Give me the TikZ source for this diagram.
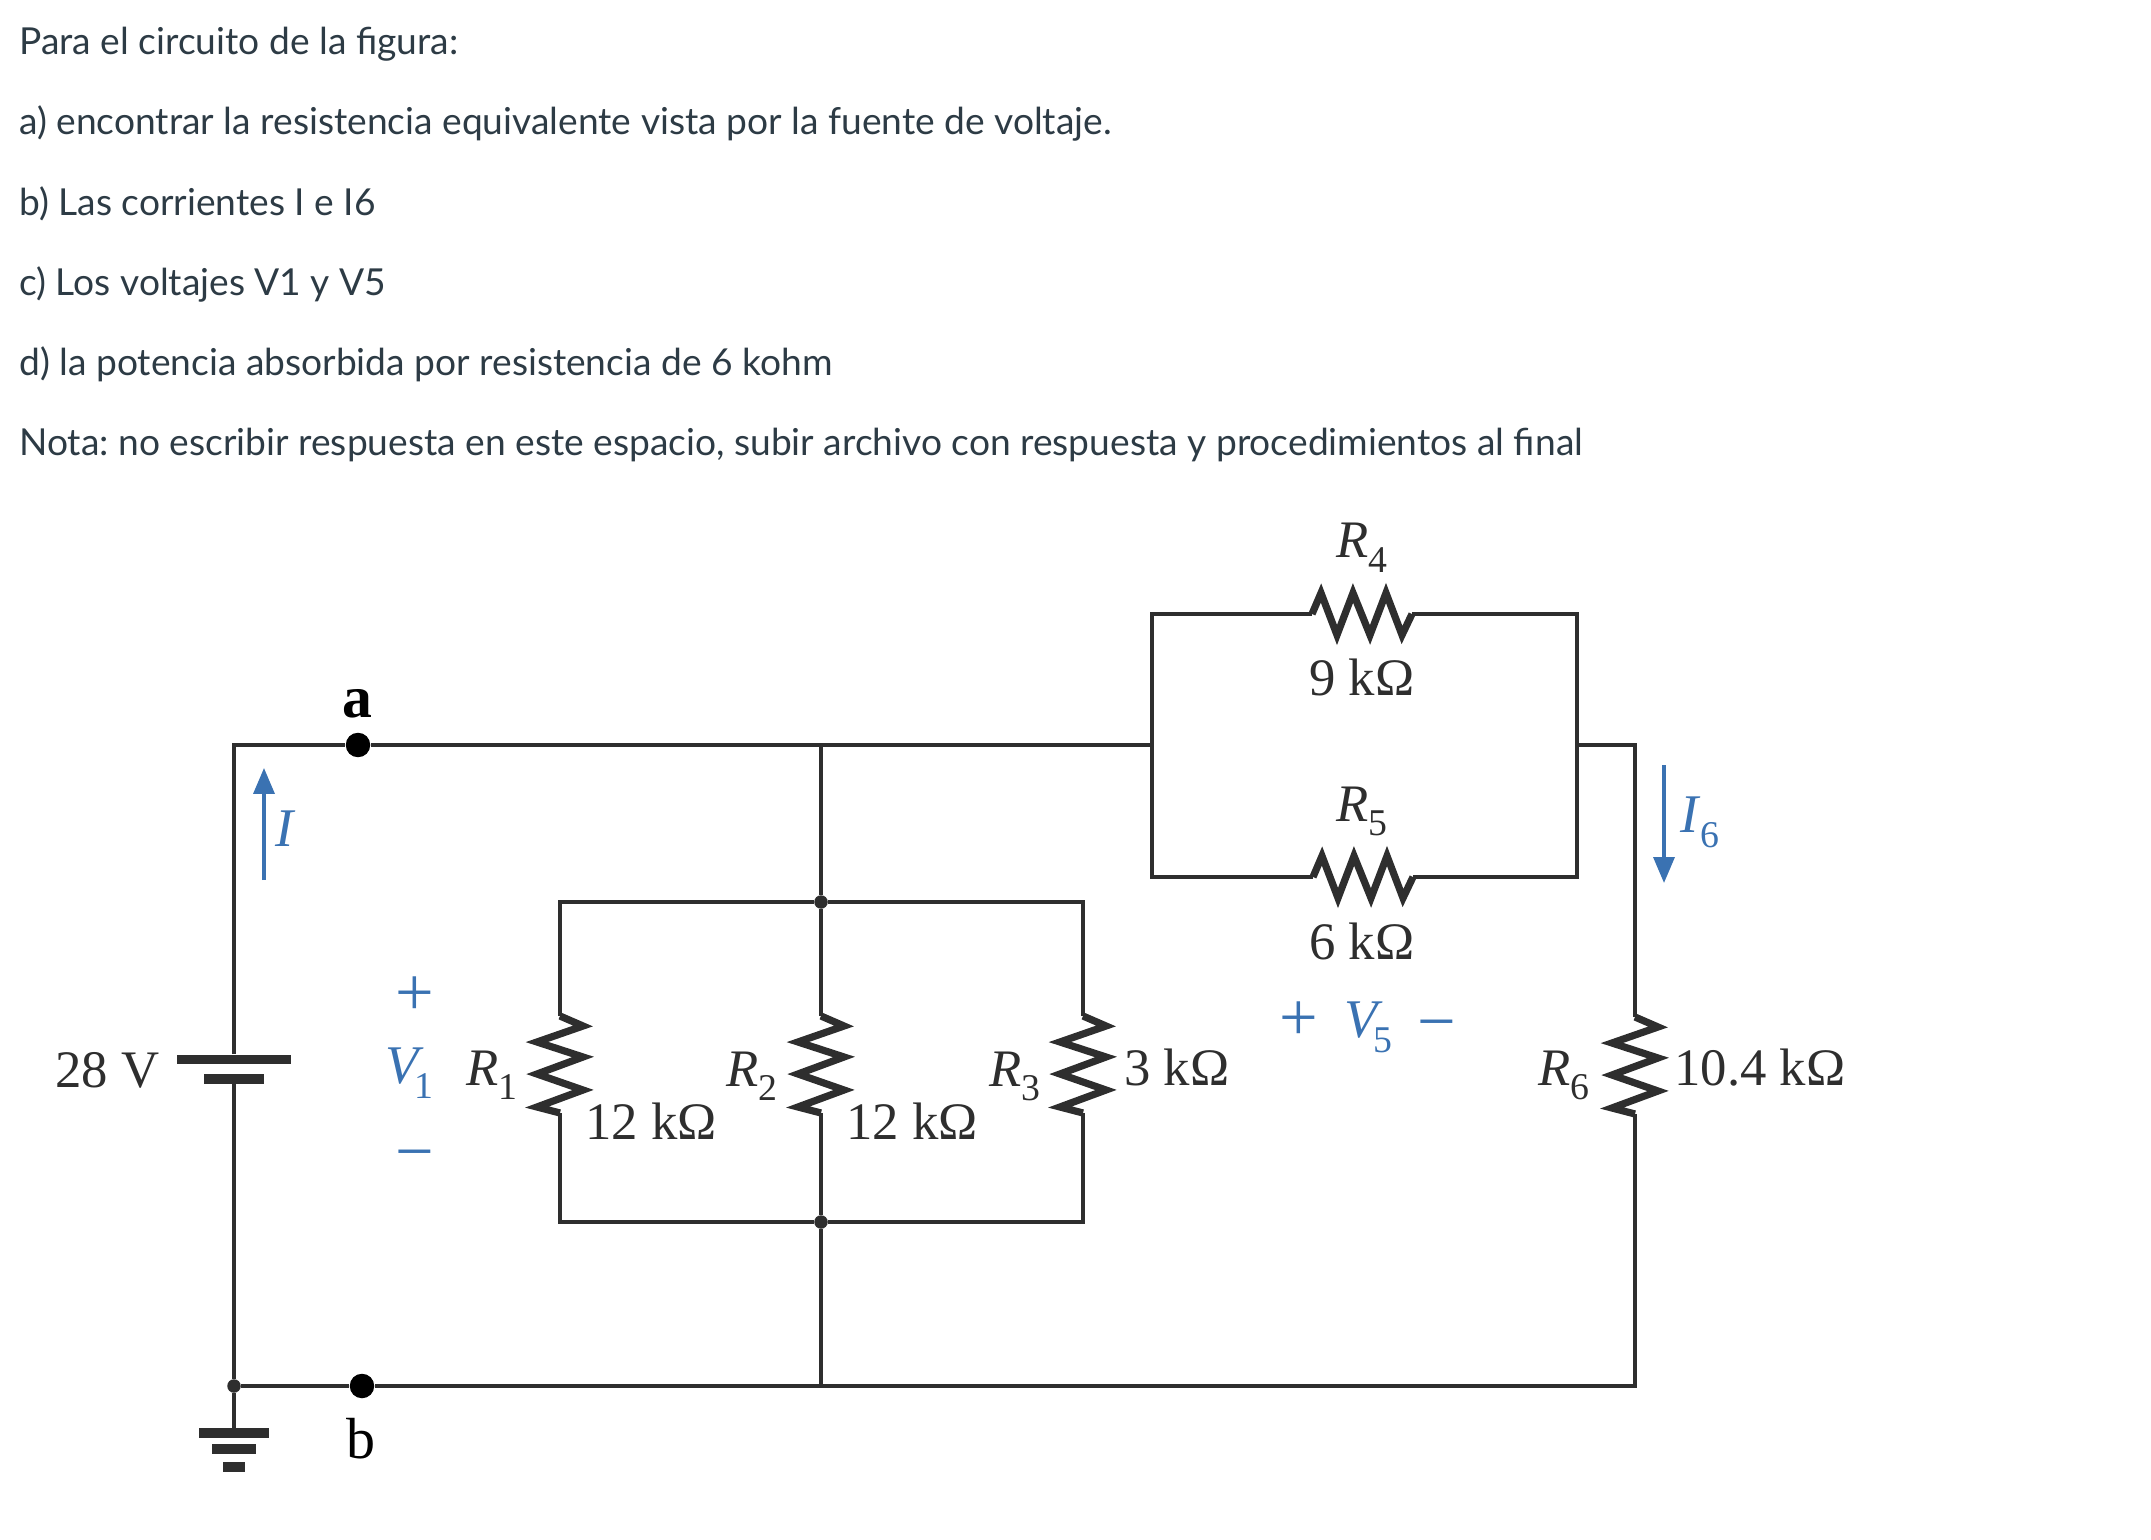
\documentclass[tikz,border=0pt]{standalone}
\usepackage{fontspec}
\setmainfont{Lato}
\newfontfamily\serifcirc{Liberation Serif}
\usetikzlibrary{arrows.meta}
\frenchspacing
\definecolor{wiregray}{HTML}{2E2E2E}
\definecolor{flowblue}{HTML}{3A72B2}
\definecolor{pagetext}{HTML}{2D3B45}
\newcommand{\subs}[2]{\textit{#1}\raisebox{-0.28em}{\fontsize{21.5pt}{21.5pt}\selectfont #2}}
\newcommand{\vzig}[1]{\draw[zig] (#1) -- ++(23,10) -- ++(-46,16) -- ++(46,15) -- ++(-46,17) -- ++(46,16) -- ++(-46,17) -- ++(23,6);}
\newcommand{\hzig}[1]{\draw[zig] (#1) -- ++(9,-21) -- ++(16,42) -- ++(16,-42) -- ++(17,42) -- ++(16,-42) -- ++(16,42) -- ++(10,-21);}
\tikzset{
	wire/.style={draw=wiregray, line width=2.2pt},
	zig/.style={draw=wiregray, line width=4.1pt, miter limit=10},
	flow/.style={draw=flowblue, line width=2pt, -{Triangle[length=0.52cm, width=0.42cm]}},
	terminal/.style={circle, fill=black, inner sep=0pt, minimum size=0.49cm},
	junction/.style={circle, fill=wiregray, inner sep=0pt, minimum size=0.27cm},
	plate/.style={rectangle, fill=wiregray, inner sep=0pt},
	para/.style={anchor=base west, inner sep=0pt, text=pagetext, font=\fontsize{21.15pt}{25pt}\selectfont},
	val/.style={anchor=base west, inner sep=0pt, text=wiregray, font=\serifcirc\fontsize{30pt}{33pt}\selectfont},
	sign/.style={anchor=base, inner sep=0pt, text=flowblue, font=\serifcirc\fontsize{39pt}{40pt}\selectfont},
	flowlab/.style={anchor=base west, inner sep=0pt, text=flowblue, font=\serifcirc\fontsize{31pt}{33pt}\selectfont}
}
\begin{document}
\begin{tikzpicture}[x=0.02cm, y=-0.02cm]
	\useasboundingbox (0,0) rectangle (2151,1540);
	% statement
	\node[para] (line0) at (19,55) {Para el circuito de la figura:};
	\node[para] (line1) at (19,135) {a) encontrar la resistencia equivalente vista por la fuente de voltaje.};
	\node[para] (line2) at (19,216) {b) Las corrientes I e I6};
	\node[para] (line3) at (19,296) {c) Los voltajes V1 y V5};
	\node[para] (line4) at (19,376) {d) la potencia absorbida por resistencia de 6 kohm};
	\node[para] (line5) at (19,456) {Nota: no escribir respuesta en este espacio, subir archivo con respuesta y procedimientos al final};
	% corners and tees
	\coordinate (topleft) at (234,745);
	\coordinate (topmid) at (821,745);
	\coordinate (blockleft) at (1152,745);
	\coordinate (blockright) at (1577,745);
	\coordinate (topright) at (1635,745);
	\coordinate (botmid) at (821,1386);
	\coordinate (botright) at (1635,1386);
	\coordinate (r4west) at (1152,614);
	\coordinate (r4east) at (1577,614);
	\coordinate (r5west) at (1152,877);
	\coordinate (r5east) at (1577,877);
	\coordinate (r1top) at (560,902);
	\coordinate (r3top) at (1083,902);
	\coordinate (r1bot) at (560,1222);
	\coordinate (r3bot) at (1083,1222);
	% resistor ends
	\coordinate (r1a) at (560,1016);
	\coordinate (r1b) at (560,1113);
	\coordinate (r2a) at (821,1016);
	\coordinate (r2b) at (821,1113);
	\coordinate (r3a) at (1083,1016);
	\coordinate (r3b) at (1083,1113);
	\coordinate (r6a) at (1635,1017);
	\coordinate (r6b) at (1635,1114);
	\coordinate (r4a) at (1312,614);
	\coordinate (r4b) at (1412,614);
	\coordinate (r5a) at (1313,877);
	\coordinate (r5b) at (1413,877);
	% dots
	\node[terminal] (a) at (358,745) {};
	\node[terminal] (b) at (362,1386) {};
	\node[junction] (botleft) at (234,1386) {};
	\node[junction] (busup) at (821,902) {};
	\node[junction] (busdown) at (821,1222) {};
	% source and ground
	\node[plate, minimum width=2.3cm, minimum height=0.18cm] (batlong) at (234,1059) {};
	\node[plate, minimum width=1.2cm, minimum height=0.2cm] (batshort) at (234,1079) {};
	\node[plate, minimum width=1.4cm, minimum height=0.19cm] (gnd1) at (234,1433) {};
	\node[plate, minimum width=0.88cm, minimum height=0.19cm] (gnd2) at (234,1449) {};
	\node[plate, minimum width=0.44cm, minimum height=0.2cm] (gnd3) at (234,1467) {};
	% wires
	\draw[wire] (batlong) -- (topleft) -- (a);
	\draw[wire] (a) -- (topmid) -- (blockleft);
	\draw[wire] (blockright) -- (topright) -- (r6a);
	\draw[wire] (r6b) -- (botright) -- (botmid) -- (b);
	\draw[wire] (b) -- (botleft);
	\draw[wire] (batshort) -- (botleft) -- (gnd1);
	\draw[wire] (topmid) -- (busup);
	\draw[wire] (busup) -- (r2a);
	\draw[wire] (r2b) -- (busdown);
	\draw[wire] (busdown) -- (botmid);
	\draw[wire] (r1a) -- (r1top) -- (busup);
	\draw[wire] (busup) -- (r3top) -- (r3a);
	\draw[wire] (r1b) -- (r1bot) -- (busdown);
	\draw[wire] (busdown) -- (r3bot) -- (r3b);
	\draw[wire] (r4a) -- (r4west) -- (r5west) -- (r5a);
	\draw[wire] (r4b) -- (r4east) -- (r5east) -- (r5b);
	% resistors
	\vzig{r1a}
	\vzig{r2a}
	\vzig{r3a}
	\vzig{r6a}
	\hzig{r4a}
	\hzig{r5a}
	% labels
	\node[val, text=black, font=\serifcirc\bfseries\fontsize{34pt}{36pt}\selectfont] (alab) at (342,717) {a};
	\node[val, text=black, font=\serifcirc\fontsize{33pt}{36pt}\selectfont] (blab) at (346,1458) {b};
	\node[val] (vsource) at (55,1087) {28 V};
	\node[val] (r1lab) at (466,1085) {\subs{R}{1}};
	\node[val] (r2lab) at (726,1086) {\subs{R}{2}};
	\node[val] (r3lab) at (989,1086) {\subs{R}{3}};
	\node[val] (r4lab) at (1336,558) {\subs{R}{4}};
	\node[val] (r5lab) at (1336,821) {\subs{R}{5}};
	\node[val] (r6lab) at (1538,1085) {\subs{R}{6}};
	\node[val] (r1val) at (585,1139) {12 kΩ};
	\node[val] (r2val) at (846,1139) {12 kΩ};
	\node[val] (r3val) at (1124,1085) {3 kΩ};
	\node[val] (r4val) at (1309,696) {9 kΩ};
	\node[val] (r5val) at (1309,959) {6 kΩ};
	\node[val] (r6val) at (1674,1085) {10.4 kΩ};
	% currents and voltages
	\coordinate (itail) at (264,880);
	\coordinate (itip) at (264,768);
	\coordinate (i6tail) at (1664,765);
	\coordinate (i6tip) at (1664,883);
	\draw[flow] (itail) -- (itip);
	\draw[flow] (i6tail) -- (i6tip);
	\node[flowlab] (ilab) at (275,846) {\textit{I}};
	\node[flowlab] (i6lab) at (1680,832) {\subs{I}{6}};
	\node[sign] (v1plus) at (415,1015) {+};
	\node[flowlab] (v1lab) at (385,1083) {\subs{V\kern-0.08em}{1}};
	\node[sign] (v1minus) at (415,1174) {−};
	\node[sign] (v5plus) at (1299,1040) {+};
	\node[flowlab] (v5lab) at (1344,1037) {\subs{V\kern-0.08em}{5}};
	\node[sign] (v5minus) at (1437,1044) {−};
\end{tikzpicture}
\end{document}
